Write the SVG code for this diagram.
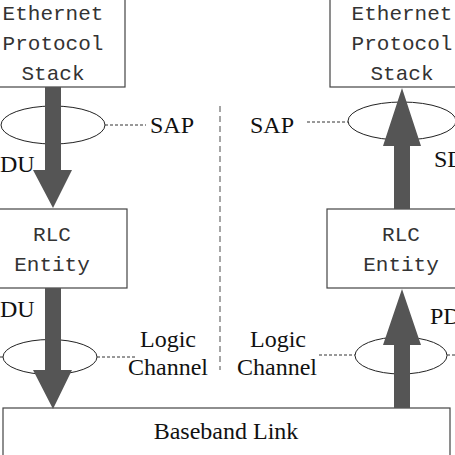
<svg xmlns="http://www.w3.org/2000/svg" width="455" height="455" viewBox="0 0 455 455">
<style>
.box{fill:#fff;stroke:#444;stroke-width:1.2}
.mono{font-family:"Liberation Mono","DejaVu Sans Mono",monospace;font-size:21px;fill:#333;text-anchor:middle}
.serif{font-family:"Liberation Serif","Times New Roman",serif;font-size:24px;fill:#111}
.ell{fill:none;stroke:#222;stroke-width:1}
.dash{stroke:#333;stroke-width:1;stroke-dasharray:3,2;fill:none}
.vdash{stroke:#888;stroke-width:1.5;stroke-dasharray:6,4;fill:none}
.arr{fill:#555}
</style>
<rect width="455" height="455" fill="#fff"/>
<g id="left-eth"><rect class="box" x="-5" y="-5" width="130" height="92"/>
<text class="mono" x="53" y="20">Ethernet</text><text class="mono" x="53" y="50">Protocol</text><text class="mono" x="53" y="80">Stack</text></g>
<g id="right-eth"><rect class="box" x="330" y="-5" width="140" height="92"/>
<text class="mono" x="402" y="20">Ethernet</text><text class="mono" x="402" y="50">Protocol</text><text class="mono" x="402" y="80">Stack</text></g>
<g id="left-rlc"><rect class="box" x="-5" y="209" width="132" height="79"/>
<text class="mono" x="52" y="241">RLC</text><text class="mono" x="52" y="271">Entity</text></g>
<g id="right-rlc"><rect class="box" x="327" y="209" width="140" height="79"/>
<text class="mono" x="401" y="241">RLC</text><text class="mono" x="401" y="271">Entity</text></g>
<g id="baseband"><rect class="box" x="3" y="408" width="447" height="60"/>
<text class="serif" x="226" y="439" text-anchor="middle">Baseband Link</text></g>
<g id="saps">
<ellipse class="ell" cx="53" cy="125" rx="52" ry="19"/>
<ellipse class="ell" cx="402" cy="121" rx="54" ry="19"/>
<ellipse class="ell" cx="50" cy="357" rx="47" ry="17.5"/>
<ellipse class="ell" cx="401" cy="355.5" rx="46" ry="18.5"/>
</g>
<g id="connectors">
<line class="dash" x1="105" y1="125" x2="146" y2="125"/>
<line class="dash" x1="307" y1="122" x2="348" y2="122"/>
<line class="dash" x1="97" y1="357" x2="136" y2="357"/>
<line class="dash" x1="-10" y1="357" x2="3" y2="357"/>
<line class="dash" x1="319" y1="355" x2="355" y2="355"/>
<line class="dash" x1="447" y1="355" x2="460" y2="355"/>
<line class="vdash" x1="220" y1="106" x2="220" y2="370"/>
<polygon class="arr" points="45,87 61,87 61,170 72,170 53,208 33,170 45,170"/>
<polygon class="arr" points="45,288 61,288 61,370 72,370 53,409 33,370 45,370"/>
<polygon class="arr" points="394,209 410,209 410,146 421,146 402,88 383,146 394,146"/>
<polygon class="arr" points="394,408 410,408 410,345 421,345 402,289 383,345 394,345"/>
</g>
<g id="labels">
<text class="serif" x="150" y="133">SAP</text>
<text class="serif" x="250" y="133">SAP</text>
<text class="serif" x="0" y="172">DU</text>
<text class="serif" x="0" y="317">DU</text>
<text class="serif" x="434" y="167">SD</text>
<text class="serif" x="430" y="324">PD</text>
<text class="serif" x="140" y="347">Logic</text>
<text class="serif" x="128" y="375">Channel</text>
<text class="serif" x="250" y="347">Logic</text>
<text class="serif" x="237" y="375">Channel</text>
</g>
</svg>
